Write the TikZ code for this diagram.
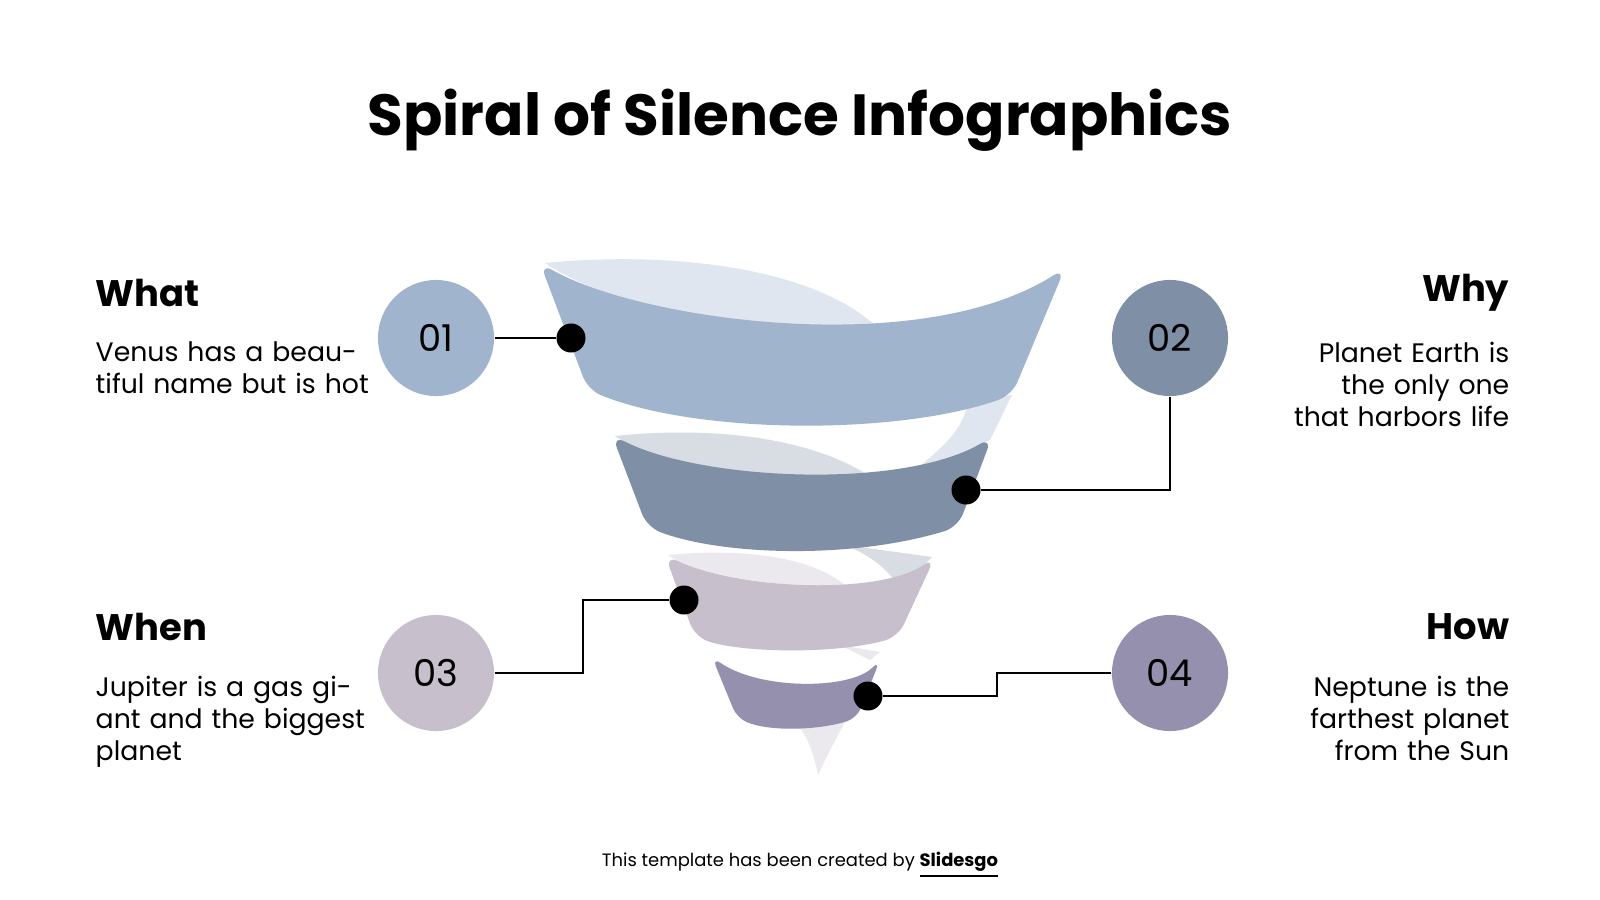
\documentclass[tikz,border=0pt]{standalone}
\usepackage{fontspec}
\setmainfont{Poppins}
\usetikzlibrary{positioning}
\definecolor{bandA}{HTML}{A0B4CE}
\definecolor{bandB}{HTML}{7F8FA6}
\definecolor{bandC}{HTML}{C8BFCD}
\definecolor{bandD}{HTML}{9590AE}
\definecolor{backA}{HTML}{E0E6EF}
\definecolor{backB}{HTML}{D8DCE3}
\definecolor{backC}{HTML}{ECE9EE}
\tikzset{
  numdisc/.style={circle,minimum size=1.16cm,inner sep=0pt,font=\fontsize{10.5}{12}\selectfont},
  pin/.style={circle,fill=black,minimum size=0.29cm,inner sep=0pt},
  head/.style={font=\fontsize{10.5}{13}\selectfont\bfseries,inner sep=0pt},
  body/.style={font=\fontsize{7.6}{9.1}\selectfont,inner sep=0pt,text width=2.75cm},
  link/.style={draw=black,line width=0.5pt}
}
\begin{document}
\begin{tikzpicture}[x=0.01cm,y=-0.01cm]
  \useasboundingbox[fill=white] (0,0) rectangle (1600,900);
  \node (title) at (800,120) {\fontsize{16.5}{20}\selectfont\bfseries Spiral of Silence Infographics};
  % funnel, back parts
  \fill[backA] (545,263) .. controls (680,250) and (820,270) .. (880,330) -- (830,332) .. controls (700,325) and (600,300) .. (545,263) -- cycle;
  \fill[backA] (968,400) -- (1012,395) -- (990,440) -- (905,478) .. controls (940,450) and (965,430) .. (968,400) -- cycle;
  \fill[backB] (615,436) .. controls (720,425) and (820,440) .. (875,480) -- (830,482) .. controls (720,475) and (650,460) .. (615,436) -- cycle;
  \fill[backB] (845,545) -- (932,557) -- (900,590) .. controls (890,570) and (870,555) .. (845,545) -- cycle;
  \fill[backC] (668,555) .. controls (740,548) and (810,556) .. (845,585) -- (810,586) .. controls (740,582) and (690,570) .. (668,555) -- cycle;
  \fill[backC] (840,645) -- (880,652) -- (870,660) .. controls (860,655) and (850,650) .. (840,645) -- cycle;
  \fill[backC] (798,725) -- (845,722) .. controls (835,740) and (825,760) .. (818,775) .. controls (815,760) and (810,740) .. (798,725) -- cycle;
  % funnel, front bands
  \fill[bandA,rounded corners=4pt] (540,263) .. controls (640,320) and (920,360) .. (1065,268) -- (1012,395) .. controls (900,435) and (700,435) .. (588,390) -- cycle;
  \fill[bandB,rounded corners=4pt] (612,435) .. controls (700,480) and (900,490) .. (992,437) -- (958,527) .. controls (850,560) and (720,555) .. (647,527) -- cycle;
  \fill[bandC,rounded corners=4pt] (665,555) .. controls (740,590) and (880,595) .. (935,557) -- (898,637) .. controls (830,655) and (740,652) .. (695,637) -- cycle;
  \fill[bandD,rounded corners=3pt] (712,657) .. controls (760,690) and (850,690) .. (880,660) -- (857,718) .. controls (820,730) and (770,732) .. (737,718) -- cycle;
  % discs and pins
  \node[numdisc,fill=bandA] (n1) at (436,338) {01};
  \node[numdisc,fill=bandB] (n2) at (1170,338) {02};
  \node[numdisc,fill=bandC] (n3) at (436,673) {03};
  \node[numdisc,fill=bandD] (n4) at (1170,673) {04};
  \node[pin] (p1) at (571,338) {};
  \node[pin] (p2) at (966,490) {};
  \node[pin] (p3) at (684,600) {};
  \node[pin] (p4) at (868,696) {};
  \coordinate (c2) at (1170,490);
  \coordinate (c3a) at (583,673);
  \coordinate (c3b) at (583,600);
  \coordinate (c4a) at (997,673);
  \coordinate (c4b) at (997,696);
  \draw[link] (n1) -- (p1);
  \draw[link] (n2) -- (c2) -- (p2);
  \draw[link] (n3) -- (c3a) -- (c3b) -- (p3);
  \draw[link] (n4) -- (c4a) -- (c4b) -- (p4);
  % texts
  \node[head,anchor=west] (what) at (95,293) {What};
  \node[body,anchor=north west,align=left] (whatb) at (95,341) {Venus has a beautiful name but is hot};
  \node[head,anchor=east] (why) at (1510,293) {Why};
  \node[body,anchor=north east,align=right] (whyb) at (1510,341) {Planet Earth is the only one that harbors life};
  \node[head,anchor=west] (when) at (95,627) {When};
  \node[body,anchor=north west,align=left] (whenb) at (95,675) {Jupiter is a gas giant and the biggest planet};
  \node[head,anchor=east] (how) at (1510,627) {How};
  \node[body,anchor=north east,align=right] (howb) at (1510,675) {Neptune is the farthest planet from the Sun};
  \node (foot) at (800,865) {\fontsize{5.1}{7}\selectfont This template has been created by \textbf{\underline{Slidesgo}}};
\end{tikzpicture}
\end{document}
